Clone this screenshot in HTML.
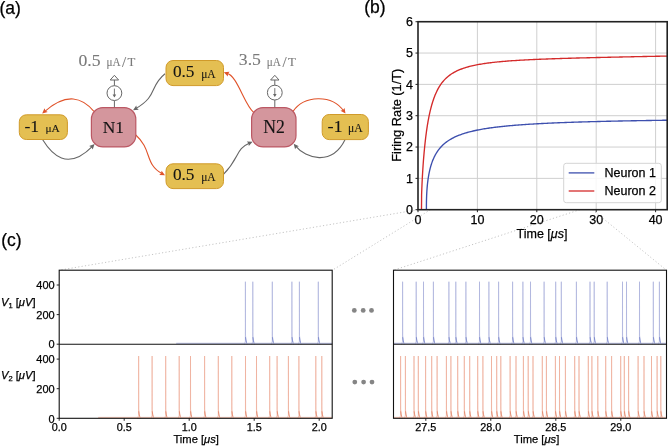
<!DOCTYPE html><html><head><meta charset="utf-8"><style>html,body{margin:0;padding:0;background:#fff;width:668px;height:446px;overflow:hidden;position:relative}</style></head><body><svg width="668" height="446" viewBox="0 0 668 446" style="position:absolute;left:0;top:0;will-change:transform">
<defs><clipPath id="cb"><rect x="418.00" y="21.72" width="249.20" height="187.98"/></clipPath></defs>
<text x="-0.6" y="13.8" font-family='"Liberation Sans", sans-serif' font-size="17.5" fill="#000" stroke="#000" stroke-width="0.25">(a)</text>
<text x="364.2" y="13" font-family='"Liberation Sans", sans-serif' font-size="17.5" fill="#000" stroke="#000" stroke-width="0.25">(b)</text>
<text x="1.2" y="245.6" font-family='"Liberation Sans", sans-serif' font-size="17.5" fill="#000" stroke="#000" stroke-width="0.25">(c)</text>
<line x1="418.00" y1="209.70" x2="59.20" y2="270.20" stroke="#c4c4c4" stroke-width="1" stroke-dasharray="1.2 2.2"/>
<line x1="430.47" y1="209.70" x2="332.40" y2="270.20" stroke="#c4c4c4" stroke-width="1" stroke-dasharray="1.2 2.2"/>
<line x1="579.87" y1="209.70" x2="393.50" y2="270.20" stroke="#c4c4c4" stroke-width="1" stroke-dasharray="1.2 2.2"/>
<line x1="592.34" y1="209.70" x2="666.50" y2="270.20" stroke="#c4c4c4" stroke-width="1" stroke-dasharray="1.2 2.2"/>
<line x1="477.40" y1="21.72" x2="477.40" y2="209.70" stroke="#cfcfcf" stroke-width="1"/>
<line x1="536.80" y1="21.72" x2="536.80" y2="209.70" stroke="#cfcfcf" stroke-width="1"/>
<line x1="596.20" y1="21.72" x2="596.20" y2="209.70" stroke="#cfcfcf" stroke-width="1"/>
<line x1="655.60" y1="21.72" x2="655.60" y2="209.70" stroke="#cfcfcf" stroke-width="1"/>
<line x1="418.00" y1="178.37" x2="667.20" y2="178.37" stroke="#cfcfcf" stroke-width="1"/>
<line x1="418.00" y1="147.04" x2="667.20" y2="147.04" stroke="#cfcfcf" stroke-width="1"/>
<line x1="418.00" y1="115.71" x2="667.20" y2="115.71" stroke="#cfcfcf" stroke-width="1"/>
<line x1="418.00" y1="84.38" x2="667.20" y2="84.38" stroke="#cfcfcf" stroke-width="1"/>
<line x1="418.00" y1="53.05" x2="667.20" y2="53.05" stroke="#cfcfcf" stroke-width="1"/>
<polyline points="426.40,209.70 426.40,207.96 426.41,206.62 426.41,205.39 426.42,204.24 426.44,203.14 426.45,202.07 426.47,201.04 426.50,200.04 426.52,199.06 426.55,198.09 426.58,197.15 426.62,196.23 426.65,195.31 426.70,194.42 426.74,193.53 426.79,192.66 426.84,191.81 426.89,190.96 426.94,190.12 427.00,189.30 427.07,188.48 427.13,187.67 427.20,186.88 427.27,186.09 427.34,185.31 427.42,184.54 427.50,183.78 427.58,183.03 427.67,182.28 427.76,181.55 427.85,180.82 427.95,180.10 428.04,179.39 428.14,178.68 428.25,177.99 428.36,177.30 428.47,176.62 428.58,175.94 428.70,175.28 428.81,174.62 428.94,173.97 429.06,173.32 429.19,172.68 429.32,172.05 429.46,171.43 429.59,170.81 429.73,170.20 429.88,169.60 430.02,169.00 430.17,168.41 430.33,167.83 430.48,167.25 430.64,166.68 430.80,166.12 430.97,165.57 431.13,165.02 431.30,164.47 431.48,163.93 431.65,163.40 431.83,162.88 432.02,162.36 432.20,161.85 432.39,161.34 432.58,160.84 432.78,160.34 432.97,159.86 433.18,159.37 433.38,158.90 433.59,158.43 433.80,157.96 434.01,157.50 434.22,157.05 434.44,156.60 434.67,156.16 434.89,155.72 435.12,155.29 435.35,154.86 435.58,154.44 435.82,154.02 436.98,152.12 438.15,150.42 439.31,148.89 440.48,147.51 441.64,146.24 442.80,145.09 443.97,144.02 445.13,143.04 446.30,142.13 447.46,141.28 448.63,140.49 449.79,139.76 450.95,139.06 452.12,138.41 453.28,137.80 454.45,137.22 455.61,136.67 456.77,136.16 457.94,135.67 459.10,135.20 460.27,134.76 461.43,134.34 462.59,133.94 463.76,133.55 464.92,133.19 466.09,132.84 467.25,132.50 468.42,132.18 469.58,131.87 470.74,131.57 471.91,131.29 473.07,131.01 474.24,130.75 475.40,130.50 476.56,130.25 477.73,130.02 478.89,129.79 480.06,129.57 481.22,129.35 482.38,129.15 483.55,128.95 484.71,128.76 485.88,128.57 487.04,128.39 488.21,128.21 489.37,128.04 490.53,127.88 491.70,127.72 492.86,127.56 494.03,127.41 495.19,127.27 496.35,127.12 497.52,126.98 498.68,126.85 499.85,126.72 501.01,126.59 502.17,126.46 503.34,126.34 504.50,126.22 505.67,126.10 506.83,125.99 508.00,125.88 509.16,125.77 510.32,125.67 511.49,125.57 512.65,125.46 513.82,125.37 514.98,125.27 516.14,125.18 517.31,125.08 518.47,125.00 519.64,124.91 520.80,124.82 521.96,124.74 523.13,124.65 524.29,124.57 525.46,124.49 526.62,124.42 527.79,124.34 528.95,124.27 530.11,124.19 531.28,124.12 532.44,124.05 533.61,123.98 534.77,123.92 535.93,123.85 537.10,123.78 538.26,123.72 539.43,123.66 540.59,123.60 541.75,123.53 542.92,123.48 544.08,123.42 545.25,123.36 546.41,123.30 547.58,123.25 548.74,123.19 549.90,123.14 551.07,123.09 552.23,123.03 553.40,122.98 554.56,122.93 555.72,122.88 556.89,122.84 558.05,122.79 559.22,122.74 560.38,122.69 561.55,122.65 562.71,122.60 563.87,122.56 565.04,122.52 566.20,122.47 567.37,122.43 568.53,122.39 569.69,122.35 570.86,122.31 572.02,122.27 573.19,122.23 574.35,122.19 575.51,122.15 576.68,122.11 577.84,122.08 579.01,122.04 580.17,122.00 581.34,121.97 582.50,121.93 583.66,121.90 584.83,121.86 585.99,121.83 587.16,121.80 588.32,121.76 589.48,121.73 590.65,121.70 591.81,121.67 592.98,121.64 594.14,121.61 595.30,121.58 596.47,121.55 597.63,121.52 598.80,121.49 599.96,121.46 601.13,121.43 602.29,121.40 603.45,121.37 604.62,121.35 605.78,121.32 606.95,121.29 608.11,121.26 609.27,121.24 610.44,121.21 611.60,121.19 612.77,121.16 613.93,121.14 615.09,121.11 616.26,121.09 617.42,121.06 618.59,121.04 619.75,121.01 620.92,120.99 622.08,120.97 623.24,120.95 624.41,120.92 625.57,120.90 626.74,120.88 627.90,120.86 629.06,120.83 630.23,120.81 631.39,120.79 632.56,120.77 633.72,120.75 634.88,120.73 636.05,120.71 637.21,120.69 638.38,120.67 639.54,120.65 640.71,120.63 641.87,120.61 643.03,120.59 644.20,120.57 645.36,120.55 646.53,120.53 647.69,120.52 648.85,120.50 650.02,120.48 651.18,120.46 652.35,120.44 653.51,120.43 654.67,120.41 655.84,120.39 657.00,120.37 658.17,120.36 659.33,120.34 660.50,120.32 661.66,120.31 662.82,120.29 663.99,120.28 665.15,120.26 666.32,120.24 667.48,120.23" fill="none" stroke="#3d4fae" stroke-width="1.35" stroke-linejoin="round" clip-path="url(#cb)"/>
<polyline points="421.47,209.70 421.48,209.46 421.48,208.73 421.50,207.52 421.51,205.82 421.53,203.64 421.56,200.97 421.59,194.83 421.62,193.98 421.66,192.98 421.70,191.84 421.75,190.58 421.81,189.23 421.86,187.81 421.93,186.32 421.99,184.78 422.06,183.20 422.14,181.59 422.22,179.94 422.30,178.28 422.39,176.59 422.49,174.89 422.59,173.18 422.69,171.45 422.80,169.73 422.91,167.99 423.03,166.26 423.15,164.52 423.28,162.78 423.41,161.05 423.54,159.31 423.68,157.58 423.83,155.85 423.98,154.13 424.13,152.41 424.29,150.69 424.45,148.98 424.62,147.28 424.79,145.58 424.97,143.89 425.15,142.22 425.34,140.55 425.53,138.90 425.72,137.27 425.92,135.66 426.13,134.07 426.34,132.50 426.55,130.95 426.77,129.42 426.99,127.91 427.22,126.43 427.45,124.97 427.69,123.53 427.93,122.12 428.18,120.73 428.43,119.36 428.68,118.02 428.94,116.71 429.21,115.41 429.48,114.14 429.75,112.89 430.03,111.67 430.31,110.47 430.60,109.29 430.89,108.13 431.19,107.00 431.49,105.89 431.79,104.80 432.10,103.74 432.42,102.70 432.74,101.67 433.06,100.67 433.39,99.70 433.72,98.74 434.06,97.80 434.40,96.89 434.75,95.99 435.10,95.11 435.46,94.26 435.82,93.42 436.98,90.92 438.15,88.67 439.31,86.66 440.48,84.85 441.64,83.21 442.80,81.72 443.97,80.37 445.13,79.13 446.30,77.99 447.46,76.95 448.63,75.99 449.79,75.11 450.95,74.29 452.12,73.53 453.28,72.82 454.45,72.16 455.61,71.55 456.77,70.97 457.94,70.43 459.10,69.92 460.27,69.45 461.43,69.00 462.59,68.57 463.76,68.17 464.92,67.79 466.09,67.43 467.25,67.09 468.42,66.76 469.58,66.46 470.74,66.16 471.91,65.88 473.07,65.61 474.24,65.36 475.40,65.12 476.56,64.88 477.73,64.66 478.89,64.45 480.06,64.24 481.22,64.05 482.38,63.86 483.55,63.68 484.71,63.50 485.88,63.33 487.04,63.17 488.21,63.02 489.37,62.87 490.53,62.72 491.70,62.58 492.86,62.45 494.03,62.32 495.19,62.19 496.35,62.07 497.52,61.95 498.68,61.84 499.85,61.73 501.01,61.62 502.17,61.51 503.34,61.41 504.50,61.32 505.67,61.22 506.83,61.13 508.00,61.04 509.16,60.95 510.32,60.87 511.49,60.78 512.65,60.70 513.82,60.62 514.98,60.55 516.14,60.47 517.31,60.40 518.47,60.33 519.64,60.26 520.80,60.19 521.96,60.12 523.13,60.06 524.29,60.00 525.46,59.93 526.62,59.87 527.79,59.81 528.95,59.76 530.11,59.70 531.28,59.64 532.44,59.59 533.61,59.53 534.77,59.48 535.93,59.43 537.10,59.38 538.26,59.33 539.43,59.28 540.59,59.23 541.75,59.19 542.92,59.14 544.08,59.09 545.25,59.05 546.41,59.00 547.58,58.96 548.74,58.92 549.90,58.88 551.07,58.83 552.23,58.79 553.40,58.75 554.56,58.71 555.72,58.67 556.89,58.64 558.05,58.60 559.22,58.56 560.38,58.52 561.55,58.49 562.71,58.45 563.87,58.41 565.04,58.38 566.20,58.34 567.37,58.31 568.53,58.27 569.69,58.24 570.86,58.21 572.02,58.17 573.19,58.14 574.35,58.11 575.51,58.08 576.68,58.04 577.84,58.01 579.01,57.98 580.17,57.95 581.34,57.92 582.50,57.89 583.66,57.86 584.83,57.83 585.99,57.80 587.16,57.77 588.32,57.74 589.48,57.71 590.65,57.68 591.81,57.66 592.98,57.63 594.14,57.60 595.30,57.57 596.47,57.54 597.63,57.52 598.80,57.49 599.96,57.46 601.13,57.43 602.29,57.41 603.45,57.38 604.62,57.35 605.78,57.33 606.95,57.30 608.11,57.27 609.27,57.25 610.44,57.22 611.60,57.20 612.77,57.17 613.93,57.15 615.09,57.12 616.26,57.10 617.42,57.07 618.59,57.05 619.75,57.02 620.92,57.00 622.08,56.97 623.24,56.95 624.41,56.92 625.57,56.90 626.74,56.87 627.90,56.85 629.06,56.82 630.23,56.80 631.39,56.78 632.56,56.75 633.72,56.73 634.88,56.70 636.05,56.68 637.21,56.66 638.38,56.63 639.54,56.61 640.71,56.59 641.87,56.56 643.03,56.54 644.20,56.51 645.36,56.49 646.53,56.47 647.69,56.44 648.85,56.42 650.02,56.40 651.18,56.38 652.35,56.35 653.51,56.33 654.67,56.31 655.84,56.28 657.00,56.26 658.17,56.24 659.33,56.22 660.50,56.19 661.66,56.17 662.82,56.15 663.99,56.12 665.15,56.10 666.32,56.08 667.48,56.06" fill="none" stroke="#d42a2a" stroke-width="1.35" stroke-linejoin="round" clip-path="url(#cb)"/>
<rect x="418.00" y="21.72" width="249.20" height="187.98" fill="none" stroke="#222" stroke-width="1.6"/>
<line x1="415.50" y1="209.70" x2="418.00" y2="209.70" stroke="#222" stroke-width="1"/>
<text x="413.00" y="214.00" text-anchor="end" font-family='"Liberation Sans", sans-serif' font-size="12.5" fill="#000" stroke="#000" stroke-width="0.25">0</text>
<line x1="415.50" y1="178.37" x2="418.00" y2="178.37" stroke="#222" stroke-width="1"/>
<text x="413.00" y="182.67" text-anchor="end" font-family='"Liberation Sans", sans-serif' font-size="12.5" fill="#000" stroke="#000" stroke-width="0.25">1</text>
<line x1="415.50" y1="147.04" x2="418.00" y2="147.04" stroke="#222" stroke-width="1"/>
<text x="413.00" y="151.34" text-anchor="end" font-family='"Liberation Sans", sans-serif' font-size="12.5" fill="#000" stroke="#000" stroke-width="0.25">2</text>
<line x1="415.50" y1="115.71" x2="418.00" y2="115.71" stroke="#222" stroke-width="1"/>
<text x="413.00" y="120.01" text-anchor="end" font-family='"Liberation Sans", sans-serif' font-size="12.5" fill="#000" stroke="#000" stroke-width="0.25">3</text>
<line x1="415.50" y1="84.38" x2="418.00" y2="84.38" stroke="#222" stroke-width="1"/>
<text x="413.00" y="88.68" text-anchor="end" font-family='"Liberation Sans", sans-serif' font-size="12.5" fill="#000" stroke="#000" stroke-width="0.25">4</text>
<line x1="415.50" y1="53.05" x2="418.00" y2="53.05" stroke="#222" stroke-width="1"/>
<text x="413.00" y="57.35" text-anchor="end" font-family='"Liberation Sans", sans-serif' font-size="12.5" fill="#000" stroke="#000" stroke-width="0.25">5</text>
<line x1="415.50" y1="21.72" x2="418.00" y2="21.72" stroke="#222" stroke-width="1"/>
<text x="413.00" y="26.02" text-anchor="end" font-family='"Liberation Sans", sans-serif' font-size="12.5" fill="#000" stroke="#000" stroke-width="0.25">6</text>
<line x1="418.00" y1="209.70" x2="418.00" y2="212.20" stroke="#222" stroke-width="1"/>
<text x="418.00" y="223.70" text-anchor="middle" font-family='"Liberation Sans", sans-serif' font-size="12.5" fill="#000" stroke="#000" stroke-width="0.25">0</text>
<line x1="477.40" y1="209.70" x2="477.40" y2="212.20" stroke="#222" stroke-width="1"/>
<text x="477.40" y="223.70" text-anchor="middle" font-family='"Liberation Sans", sans-serif' font-size="12.5" fill="#000" stroke="#000" stroke-width="0.25">10</text>
<line x1="536.80" y1="209.70" x2="536.80" y2="212.20" stroke="#222" stroke-width="1"/>
<text x="536.80" y="223.70" text-anchor="middle" font-family='"Liberation Sans", sans-serif' font-size="12.5" fill="#000" stroke="#000" stroke-width="0.25">20</text>
<line x1="596.20" y1="209.70" x2="596.20" y2="212.20" stroke="#222" stroke-width="1"/>
<text x="596.20" y="223.70" text-anchor="middle" font-family='"Liberation Sans", sans-serif' font-size="12.5" fill="#000" stroke="#000" stroke-width="0.25">30</text>
<line x1="655.60" y1="209.70" x2="655.60" y2="212.20" stroke="#222" stroke-width="1"/>
<text x="655.60" y="223.70" text-anchor="middle" font-family='"Liberation Sans", sans-serif' font-size="12.5" fill="#000" stroke="#000" stroke-width="0.25">40</text>
<text x="542" y="238" text-anchor="middle" font-family='"Liberation Sans", sans-serif' font-size="12.5" fill="#000" stroke="#000" stroke-width="0.25">Time [<tspan font-style="italic">μs</tspan>]</text>
<text transform="translate(400.6,115.2) rotate(-90)" text-anchor="middle" font-family='"Liberation Sans", sans-serif' font-size="12.8" fill="#000" stroke="#000" stroke-width="0.25">Firing Rate (1/T)</text>
<rect x="563.7" y="163.3" width="97.6" height="39.4" rx="2.5" fill="#fff" fill-opacity="0.85" stroke="#d4d4d4" stroke-width="1"/>
<line x1="568.7" y1="172.9" x2="594.3" y2="172.9" stroke="#3d4fae" stroke-width="1.3"/>
<line x1="568.7" y1="191" x2="594.3" y2="191" stroke="#d42a2a" stroke-width="1.3"/>
<text x="604.5" y="177.2" font-family='"Liberation Sans", sans-serif' font-size="12.5" fill="#000" stroke="#000" stroke-width="0.25">Neuron 1</text>
<text x="604.5" y="195.3" font-family='"Liberation Sans", sans-serif' font-size="12.5" fill="#000" stroke="#000" stroke-width="0.25">Neuron 2</text>
<line x1="176.20" y1="343.30" x2="332.20" y2="343.30" stroke="#8e98d4" stroke-width="0.7"/>
<line x1="98.20" y1="417.40" x2="332.20" y2="417.40" stroke="#eaa08a" stroke-width="0.7"/>
<line x1="393.50" y1="343.30" x2="666.50" y2="343.30" stroke="#8e98d4" stroke-width="0.7"/>
<line x1="393.50" y1="417.40" x2="666.50" y2="417.40" stroke="#eaa08a" stroke-width="0.7"/>
<path d="M244.40,344.50 L245.35,341.20 L245.40,281.70 L245.50,335.20 L245.90,339.20 L246.40,342.20 L247.10,344.50" fill="none" stroke="#a2a9d8" stroke-width="0.6" stroke-linejoin="miter" stroke-miterlimit="1.5"/>
<path d="M245.50,337.20 L245.90,340.20 L246.50,342.70" fill="none" stroke="#6474c4" stroke-width="0.7"/>
<path d="M251.80,344.50 L252.75,341.20 L252.80,281.70 L252.90,335.20 L253.30,339.20 L253.80,342.20 L254.50,344.50" fill="none" stroke="#a2a9d8" stroke-width="0.6" stroke-linejoin="miter" stroke-miterlimit="1.5"/>
<path d="M252.90,337.20 L253.30,340.20 L253.90,342.70" fill="none" stroke="#6474c4" stroke-width="0.7"/>
<path d="M271.30,344.50 L272.25,341.20 L272.30,281.70 L272.40,335.20 L272.80,339.20 L273.30,342.20 L274.00,344.50" fill="none" stroke="#a2a9d8" stroke-width="0.6" stroke-linejoin="miter" stroke-miterlimit="1.5"/>
<path d="M272.40,337.20 L272.80,340.20 L273.40,342.70" fill="none" stroke="#6474c4" stroke-width="0.7"/>
<path d="M290.90,344.50 L291.85,341.20 L291.90,281.70 L292.00,335.20 L292.40,339.20 L292.90,342.20 L293.60,344.50" fill="none" stroke="#a2a9d8" stroke-width="0.6" stroke-linejoin="miter" stroke-miterlimit="1.5"/>
<path d="M292.00,337.20 L292.40,340.20 L293.00,342.70" fill="none" stroke="#6474c4" stroke-width="0.7"/>
<path d="M298.40,344.50 L299.35,341.20 L299.40,281.70 L299.50,335.20 L299.90,339.20 L300.40,342.20 L301.10,344.50" fill="none" stroke="#a2a9d8" stroke-width="0.6" stroke-linejoin="miter" stroke-miterlimit="1.5"/>
<path d="M299.50,337.20 L299.90,340.20 L300.50,342.70" fill="none" stroke="#6474c4" stroke-width="0.7"/>
<path d="M317.30,344.50 L318.25,341.20 L318.30,281.70 L318.40,335.20 L318.80,339.20 L319.30,342.20 L320.00,344.50" fill="none" stroke="#a2a9d8" stroke-width="0.6" stroke-linejoin="miter" stroke-miterlimit="1.5"/>
<path d="M318.40,337.20 L318.80,340.20 L319.40,342.70" fill="none" stroke="#6474c4" stroke-width="0.7"/>
<path d="M401.60,344.50 L402.55,341.20 L402.60,281.70 L402.70,335.20 L403.10,339.20 L403.60,342.20 L404.30,344.50" fill="none" stroke="#a2a9d8" stroke-width="0.6" stroke-linejoin="miter" stroke-miterlimit="1.5"/>
<path d="M402.70,337.20 L403.10,340.20 L403.70,342.70" fill="none" stroke="#6474c4" stroke-width="0.7"/>
<path d="M415.20,344.50 L416.15,341.20 L416.20,281.70 L416.30,335.20 L416.70,339.20 L417.20,342.20 L417.90,344.50" fill="none" stroke="#a2a9d8" stroke-width="0.6" stroke-linejoin="miter" stroke-miterlimit="1.5"/>
<path d="M416.30,337.20 L416.70,340.20 L417.30,342.70" fill="none" stroke="#6474c4" stroke-width="0.7"/>
<path d="M422.50,344.50 L423.45,341.20 L423.50,281.70 L423.60,335.20 L424.00,339.20 L424.50,342.20 L425.20,344.50" fill="none" stroke="#a2a9d8" stroke-width="0.6" stroke-linejoin="miter" stroke-miterlimit="1.5"/>
<path d="M423.60,337.20 L424.00,340.20 L424.60,342.70" fill="none" stroke="#6474c4" stroke-width="0.7"/>
<path d="M432.40,344.50 L433.35,341.20 L433.40,281.70 L433.50,335.20 L433.90,339.20 L434.40,342.20 L435.10,344.50" fill="none" stroke="#a2a9d8" stroke-width="0.6" stroke-linejoin="miter" stroke-miterlimit="1.5"/>
<path d="M433.50,337.20 L433.90,340.20 L434.50,342.70" fill="none" stroke="#6474c4" stroke-width="0.7"/>
<path d="M447.90,344.50 L448.85,341.20 L448.90,281.70 L449.00,335.20 L449.40,339.20 L449.90,342.20 L450.60,344.50" fill="none" stroke="#a2a9d8" stroke-width="0.6" stroke-linejoin="miter" stroke-miterlimit="1.5"/>
<path d="M449.00,337.20 L449.40,340.20 L450.00,342.70" fill="none" stroke="#6474c4" stroke-width="0.7"/>
<path d="M454.80,344.50 L455.75,341.20 L455.80,281.70 L455.90,335.20 L456.30,339.20 L456.80,342.20 L457.50,344.50" fill="none" stroke="#a2a9d8" stroke-width="0.6" stroke-linejoin="miter" stroke-miterlimit="1.5"/>
<path d="M455.90,337.20 L456.30,340.20 L456.90,342.70" fill="none" stroke="#6474c4" stroke-width="0.7"/>
<path d="M464.90,344.50 L465.85,341.20 L465.90,281.70 L466.00,335.20 L466.40,339.20 L466.90,342.20 L467.60,344.50" fill="none" stroke="#a2a9d8" stroke-width="0.6" stroke-linejoin="miter" stroke-miterlimit="1.5"/>
<path d="M466.00,337.20 L466.40,340.20 L467.00,342.70" fill="none" stroke="#6474c4" stroke-width="0.7"/>
<path d="M478.50,344.50 L479.45,341.20 L479.50,281.70 L479.60,335.20 L480.00,339.20 L480.50,342.20 L481.20,344.50" fill="none" stroke="#a2a9d8" stroke-width="0.6" stroke-linejoin="miter" stroke-miterlimit="1.5"/>
<path d="M479.60,337.20 L480.00,340.20 L480.60,342.70" fill="none" stroke="#6474c4" stroke-width="0.7"/>
<path d="M487.90,344.50 L488.85,341.20 L488.90,281.70 L489.00,335.20 L489.40,339.20 L489.90,342.20 L490.60,344.50" fill="none" stroke="#a2a9d8" stroke-width="0.6" stroke-linejoin="miter" stroke-miterlimit="1.5"/>
<path d="M489.00,337.20 L489.40,340.20 L490.00,342.70" fill="none" stroke="#6474c4" stroke-width="0.7"/>
<path d="M497.60,344.50 L498.55,341.20 L498.60,281.70 L498.70,335.20 L499.10,339.20 L499.60,342.20 L500.30,344.50" fill="none" stroke="#a2a9d8" stroke-width="0.6" stroke-linejoin="miter" stroke-miterlimit="1.5"/>
<path d="M498.70,337.20 L499.10,340.20 L499.70,342.70" fill="none" stroke="#6474c4" stroke-width="0.7"/>
<path d="M511.60,344.50 L512.55,341.20 L512.60,281.70 L512.70,335.20 L513.10,339.20 L513.60,342.20 L514.30,344.50" fill="none" stroke="#a2a9d8" stroke-width="0.6" stroke-linejoin="miter" stroke-miterlimit="1.5"/>
<path d="M512.70,337.20 L513.10,340.20 L513.70,342.70" fill="none" stroke="#6474c4" stroke-width="0.7"/>
<path d="M521.90,344.50 L522.85,341.20 L522.90,281.70 L523.00,335.20 L523.40,339.20 L523.90,342.20 L524.60,344.50" fill="none" stroke="#a2a9d8" stroke-width="0.6" stroke-linejoin="miter" stroke-miterlimit="1.5"/>
<path d="M523.00,337.20 L523.40,340.20 L524.00,342.70" fill="none" stroke="#6474c4" stroke-width="0.7"/>
<path d="M529.50,344.50 L530.45,341.20 L530.50,281.70 L530.60,335.20 L531.00,339.20 L531.50,342.20 L532.20,344.50" fill="none" stroke="#a2a9d8" stroke-width="0.6" stroke-linejoin="miter" stroke-miterlimit="1.5"/>
<path d="M530.60,337.20 L531.00,340.20 L531.60,342.70" fill="none" stroke="#6474c4" stroke-width="0.7"/>
<path d="M543.10,344.50 L544.05,341.20 L544.10,281.70 L544.20,335.20 L544.60,339.20 L545.10,342.20 L545.80,344.50" fill="none" stroke="#a2a9d8" stroke-width="0.6" stroke-linejoin="miter" stroke-miterlimit="1.5"/>
<path d="M544.20,337.20 L544.60,340.20 L545.20,342.70" fill="none" stroke="#6474c4" stroke-width="0.7"/>
<path d="M554.70,344.50 L555.65,341.20 L555.70,281.70 L555.80,335.20 L556.20,339.20 L556.70,342.20 L557.40,344.50" fill="none" stroke="#a2a9d8" stroke-width="0.6" stroke-linejoin="miter" stroke-miterlimit="1.5"/>
<path d="M555.80,337.20 L556.20,340.20 L556.80,342.70" fill="none" stroke="#6474c4" stroke-width="0.7"/>
<path d="M560.30,344.50 L561.25,341.20 L561.30,281.70 L561.40,335.20 L561.80,339.20 L562.30,342.20 L563.00,344.50" fill="none" stroke="#a2a9d8" stroke-width="0.6" stroke-linejoin="miter" stroke-miterlimit="1.5"/>
<path d="M561.40,337.20 L561.80,340.20 L562.40,342.70" fill="none" stroke="#6474c4" stroke-width="0.7"/>
<path d="M575.40,344.50 L576.35,341.20 L576.40,281.70 L576.50,335.20 L576.90,339.20 L577.40,342.20 L578.10,344.50" fill="none" stroke="#a2a9d8" stroke-width="0.6" stroke-linejoin="miter" stroke-miterlimit="1.5"/>
<path d="M576.50,337.20 L576.90,340.20 L577.50,342.70" fill="none" stroke="#6474c4" stroke-width="0.7"/>
<path d="M589.00,344.50 L589.95,341.20 L590.00,281.70 L590.10,335.20 L590.50,339.20 L591.00,342.20 L591.70,344.50" fill="none" stroke="#a2a9d8" stroke-width="0.6" stroke-linejoin="miter" stroke-miterlimit="1.5"/>
<path d="M590.10,337.20 L590.50,340.20 L591.10,342.70" fill="none" stroke="#6474c4" stroke-width="0.7"/>
<path d="M593.20,344.50 L594.15,341.20 L594.20,281.70 L594.30,335.20 L594.70,339.20 L595.20,342.20 L595.90,344.50" fill="none" stroke="#a2a9d8" stroke-width="0.6" stroke-linejoin="miter" stroke-miterlimit="1.5"/>
<path d="M594.30,337.20 L594.70,340.20 L595.30,342.70" fill="none" stroke="#6474c4" stroke-width="0.7"/>
<path d="M606.20,344.50 L607.15,341.20 L607.20,281.70 L607.30,335.20 L607.70,339.20 L608.20,342.20 L608.90,344.50" fill="none" stroke="#a2a9d8" stroke-width="0.6" stroke-linejoin="miter" stroke-miterlimit="1.5"/>
<path d="M607.30,337.20 L607.70,340.20 L608.30,342.70" fill="none" stroke="#6474c4" stroke-width="0.7"/>
<path d="M621.50,344.50 L622.45,341.20 L622.50,281.70 L622.60,335.20 L623.00,339.20 L623.50,342.20 L624.20,344.50" fill="none" stroke="#a2a9d8" stroke-width="0.6" stroke-linejoin="miter" stroke-miterlimit="1.5"/>
<path d="M622.60,337.20 L623.00,340.20 L623.60,342.70" fill="none" stroke="#6474c4" stroke-width="0.7"/>
<path d="M625.50,344.50 L626.45,341.20 L626.50,281.70 L626.60,335.20 L627.00,339.20 L627.50,342.20 L628.20,344.50" fill="none" stroke="#a2a9d8" stroke-width="0.6" stroke-linejoin="miter" stroke-miterlimit="1.5"/>
<path d="M626.60,337.20 L627.00,340.20 L627.60,342.70" fill="none" stroke="#6474c4" stroke-width="0.7"/>
<path d="M638.50,344.50 L639.45,341.20 L639.50,281.70 L639.60,335.20 L640.00,339.20 L640.50,342.20 L641.20,344.50" fill="none" stroke="#a2a9d8" stroke-width="0.6" stroke-linejoin="miter" stroke-miterlimit="1.5"/>
<path d="M639.60,337.20 L640.00,340.20 L640.60,342.70" fill="none" stroke="#6474c4" stroke-width="0.7"/>
<path d="M652.30,344.50 L653.25,341.20 L653.30,281.70 L653.40,335.20 L653.80,339.20 L654.30,342.20 L655.00,344.50" fill="none" stroke="#a2a9d8" stroke-width="0.6" stroke-linejoin="miter" stroke-miterlimit="1.5"/>
<path d="M653.40,337.20 L653.80,340.20 L654.40,342.70" fill="none" stroke="#6474c4" stroke-width="0.7"/>
<path d="M658.40,344.50 L659.35,341.20 L659.40,281.70 L659.50,335.20 L659.90,339.20 L660.40,342.20 L661.10,344.50" fill="none" stroke="#a2a9d8" stroke-width="0.6" stroke-linejoin="miter" stroke-miterlimit="1.5"/>
<path d="M659.50,337.20 L659.90,340.20 L660.50,342.70" fill="none" stroke="#6474c4" stroke-width="0.7"/>
<path d="M137.65,418.60 L138.60,415.30 L138.65,356.00 L138.75,409.30 L139.15,413.30 L139.65,416.30 L140.35,418.60" fill="none" stroke="#eca58f" stroke-width="0.6" stroke-linejoin="miter" stroke-miterlimit="1.5"/>
<path d="M138.75,411.30 L139.15,414.30 L139.75,416.80" fill="none" stroke="#e07a5a" stroke-width="0.7"/>
<path d="M151.10,418.60 L152.05,415.30 L152.10,356.00 L152.20,409.30 L152.60,413.30 L153.10,416.30 L153.80,418.60" fill="none" stroke="#eca58f" stroke-width="0.6" stroke-linejoin="miter" stroke-miterlimit="1.5"/>
<path d="M152.20,411.30 L152.60,414.30 L153.20,416.80" fill="none" stroke="#e07a5a" stroke-width="0.7"/>
<path d="M164.70,418.60 L165.65,415.30 L165.70,356.00 L165.80,409.30 L166.20,413.30 L166.70,416.30 L167.40,418.60" fill="none" stroke="#eca58f" stroke-width="0.6" stroke-linejoin="miter" stroke-miterlimit="1.5"/>
<path d="M165.80,411.30 L166.20,414.30 L166.80,416.80" fill="none" stroke="#e07a5a" stroke-width="0.7"/>
<path d="M178.20,418.60 L179.15,415.30 L179.20,356.00 L179.30,409.30 L179.70,413.30 L180.20,416.30 L180.90,418.60" fill="none" stroke="#eca58f" stroke-width="0.6" stroke-linejoin="miter" stroke-miterlimit="1.5"/>
<path d="M179.30,411.30 L179.70,414.30 L180.30,416.80" fill="none" stroke="#e07a5a" stroke-width="0.7"/>
<path d="M189.50,418.60 L190.45,415.30 L190.50,356.00 L190.60,409.30 L191.00,413.30 L191.50,416.30 L192.20,418.60" fill="none" stroke="#eca58f" stroke-width="0.6" stroke-linejoin="miter" stroke-miterlimit="1.5"/>
<path d="M190.60,411.30 L191.00,414.30 L191.60,416.80" fill="none" stroke="#e07a5a" stroke-width="0.7"/>
<path d="M203.60,418.60 L204.55,415.30 L204.60,356.00 L204.70,409.30 L205.10,413.30 L205.60,416.30 L206.30,418.60" fill="none" stroke="#eca58f" stroke-width="0.6" stroke-linejoin="miter" stroke-miterlimit="1.5"/>
<path d="M204.70,411.30 L205.10,414.30 L205.70,416.80" fill="none" stroke="#e07a5a" stroke-width="0.7"/>
<path d="M217.30,418.60 L218.25,415.30 L218.30,356.00 L218.40,409.30 L218.80,413.30 L219.30,416.30 L220.00,418.60" fill="none" stroke="#eca58f" stroke-width="0.6" stroke-linejoin="miter" stroke-miterlimit="1.5"/>
<path d="M218.40,411.30 L218.80,414.30 L219.40,416.80" fill="none" stroke="#e07a5a" stroke-width="0.7"/>
<path d="M230.80,418.60 L231.75,415.30 L231.80,356.00 L231.90,409.30 L232.30,413.30 L232.80,416.30 L233.50,418.60" fill="none" stroke="#eca58f" stroke-width="0.6" stroke-linejoin="miter" stroke-miterlimit="1.5"/>
<path d="M231.90,411.30 L232.30,414.30 L232.90,416.80" fill="none" stroke="#e07a5a" stroke-width="0.7"/>
<path d="M244.50,418.60 L245.45,415.30 L245.50,356.00 L245.60,409.30 L246.00,413.30 L246.50,416.30 L247.20,418.60" fill="none" stroke="#eca58f" stroke-width="0.6" stroke-linejoin="miter" stroke-miterlimit="1.5"/>
<path d="M245.60,411.30 L246.00,414.30 L246.60,416.80" fill="none" stroke="#e07a5a" stroke-width="0.7"/>
<path d="M255.50,418.60 L256.45,415.30 L256.50,356.00 L256.60,409.30 L257.00,413.30 L257.50,416.30 L258.20,418.60" fill="none" stroke="#eca58f" stroke-width="0.6" stroke-linejoin="miter" stroke-miterlimit="1.5"/>
<path d="M256.60,411.30 L257.00,414.30 L257.60,416.80" fill="none" stroke="#e07a5a" stroke-width="0.7"/>
<path d="M268.70,418.60 L269.65,415.30 L269.70,356.00 L269.80,409.30 L270.20,413.30 L270.70,416.30 L271.40,418.60" fill="none" stroke="#eca58f" stroke-width="0.6" stroke-linejoin="miter" stroke-miterlimit="1.5"/>
<path d="M269.80,411.30 L270.20,414.30 L270.80,416.80" fill="none" stroke="#e07a5a" stroke-width="0.7"/>
<path d="M276.10,418.60 L277.05,415.30 L277.10,356.00 L277.20,409.30 L277.60,413.30 L278.10,416.30 L278.80,418.60" fill="none" stroke="#eca58f" stroke-width="0.6" stroke-linejoin="miter" stroke-miterlimit="1.5"/>
<path d="M277.20,411.30 L277.60,414.30 L278.20,416.80" fill="none" stroke="#e07a5a" stroke-width="0.7"/>
<path d="M287.40,418.60 L288.35,415.30 L288.40,356.00 L288.50,409.30 L288.90,413.30 L289.40,416.30 L290.10,418.60" fill="none" stroke="#eca58f" stroke-width="0.6" stroke-linejoin="miter" stroke-miterlimit="1.5"/>
<path d="M288.50,411.30 L288.90,414.30 L289.50,416.80" fill="none" stroke="#e07a5a" stroke-width="0.7"/>
<path d="M297.90,418.60 L298.85,415.30 L298.90,356.00 L299.00,409.30 L299.40,413.30 L299.90,416.30 L300.60,418.60" fill="none" stroke="#eca58f" stroke-width="0.6" stroke-linejoin="miter" stroke-miterlimit="1.5"/>
<path d="M299.00,411.30 L299.40,414.30 L300.00,416.80" fill="none" stroke="#e07a5a" stroke-width="0.7"/>
<path d="M314.80,418.60 L315.75,415.30 L315.80,356.00 L315.90,409.30 L316.30,413.30 L316.80,416.30 L317.50,418.60" fill="none" stroke="#eca58f" stroke-width="0.6" stroke-linejoin="miter" stroke-miterlimit="1.5"/>
<path d="M315.90,411.30 L316.30,414.30 L316.90,416.80" fill="none" stroke="#e07a5a" stroke-width="0.7"/>
<path d="M320.80,418.60 L321.75,415.30 L321.80,356.00 L321.90,409.30 L322.30,413.30 L322.80,416.30 L323.50,418.60" fill="none" stroke="#eca58f" stroke-width="0.6" stroke-linejoin="miter" stroke-miterlimit="1.5"/>
<path d="M321.90,411.30 L322.30,414.30 L322.90,416.80" fill="none" stroke="#e07a5a" stroke-width="0.7"/>
<path d="M399.60,418.60 L400.55,415.30 L400.60,356.00 L400.70,409.30 L401.10,413.30 L401.60,416.30 L402.30,418.60" fill="none" stroke="#eca58f" stroke-width="0.6" stroke-linejoin="miter" stroke-miterlimit="1.5"/>
<path d="M400.70,411.30 L401.10,414.30 L401.70,416.80" fill="none" stroke="#e07a5a" stroke-width="0.7"/>
<path d="M404.40,418.60 L405.35,415.30 L405.40,356.00 L405.50,409.30 L405.90,413.30 L406.40,416.30 L407.10,418.60" fill="none" stroke="#eca58f" stroke-width="0.6" stroke-linejoin="miter" stroke-miterlimit="1.5"/>
<path d="M405.50,411.30 L405.90,414.30 L406.50,416.80" fill="none" stroke="#e07a5a" stroke-width="0.7"/>
<path d="M413.00,418.60 L413.95,415.30 L414.00,356.00 L414.10,409.30 L414.50,413.30 L415.00,416.30 L415.70,418.60" fill="none" stroke="#eca58f" stroke-width="0.6" stroke-linejoin="miter" stroke-miterlimit="1.5"/>
<path d="M414.10,411.30 L414.50,414.30 L415.10,416.80" fill="none" stroke="#e07a5a" stroke-width="0.7"/>
<path d="M417.30,418.60 L418.25,415.30 L418.30,356.00 L418.40,409.30 L418.80,413.30 L419.30,416.30 L420.00,418.60" fill="none" stroke="#eca58f" stroke-width="0.6" stroke-linejoin="miter" stroke-miterlimit="1.5"/>
<path d="M418.40,411.30 L418.80,414.30 L419.40,416.80" fill="none" stroke="#e07a5a" stroke-width="0.7"/>
<path d="M424.60,418.60 L425.55,415.30 L425.60,356.00 L425.70,409.30 L426.10,413.30 L426.60,416.30 L427.30,418.60" fill="none" stroke="#eca58f" stroke-width="0.6" stroke-linejoin="miter" stroke-miterlimit="1.5"/>
<path d="M425.70,411.30 L426.10,414.30 L426.70,416.80" fill="none" stroke="#e07a5a" stroke-width="0.7"/>
<path d="M430.70,418.60 L431.65,415.30 L431.70,356.00 L431.80,409.30 L432.20,413.30 L432.70,416.30 L433.40,418.60" fill="none" stroke="#eca58f" stroke-width="0.6" stroke-linejoin="miter" stroke-miterlimit="1.5"/>
<path d="M431.80,411.30 L432.20,414.30 L432.80,416.80" fill="none" stroke="#e07a5a" stroke-width="0.7"/>
<path d="M436.10,418.60 L437.05,415.30 L437.10,356.00 L437.20,409.30 L437.60,413.30 L438.10,416.30 L438.80,418.60" fill="none" stroke="#eca58f" stroke-width="0.6" stroke-linejoin="miter" stroke-miterlimit="1.5"/>
<path d="M437.20,411.30 L437.60,414.30 L438.20,416.80" fill="none" stroke="#e07a5a" stroke-width="0.7"/>
<path d="M445.40,418.60 L446.35,415.30 L446.40,356.00 L446.50,409.30 L446.90,413.30 L447.40,416.30 L448.10,418.60" fill="none" stroke="#eca58f" stroke-width="0.6" stroke-linejoin="miter" stroke-miterlimit="1.5"/>
<path d="M446.50,411.30 L446.90,414.30 L447.50,416.80" fill="none" stroke="#e07a5a" stroke-width="0.7"/>
<path d="M449.90,418.60 L450.85,415.30 L450.90,356.00 L451.00,409.30 L451.40,413.30 L451.90,416.30 L452.60,418.60" fill="none" stroke="#eca58f" stroke-width="0.6" stroke-linejoin="miter" stroke-miterlimit="1.5"/>
<path d="M451.00,411.30 L451.40,414.30 L452.00,416.80" fill="none" stroke="#e07a5a" stroke-width="0.7"/>
<path d="M456.70,418.60 L457.65,415.30 L457.70,356.00 L457.80,409.30 L458.20,413.30 L458.70,416.30 L459.40,418.60" fill="none" stroke="#eca58f" stroke-width="0.6" stroke-linejoin="miter" stroke-miterlimit="1.5"/>
<path d="M457.80,411.30 L458.20,414.30 L458.80,416.80" fill="none" stroke="#e07a5a" stroke-width="0.7"/>
<path d="M463.30,418.60 L464.25,415.30 L464.30,356.00 L464.40,409.30 L464.80,413.30 L465.30,416.30 L466.00,418.60" fill="none" stroke="#eca58f" stroke-width="0.6" stroke-linejoin="miter" stroke-miterlimit="1.5"/>
<path d="M464.40,411.30 L464.80,414.30 L465.40,416.80" fill="none" stroke="#e07a5a" stroke-width="0.7"/>
<path d="M468.70,418.60 L469.65,415.30 L469.70,356.00 L469.80,409.30 L470.20,413.30 L470.70,416.30 L471.40,418.60" fill="none" stroke="#eca58f" stroke-width="0.6" stroke-linejoin="miter" stroke-miterlimit="1.5"/>
<path d="M469.80,411.30 L470.20,414.30 L470.80,416.80" fill="none" stroke="#e07a5a" stroke-width="0.7"/>
<path d="M476.70,418.60 L477.65,415.30 L477.70,356.00 L477.80,409.30 L478.20,413.30 L478.70,416.30 L479.40,418.60" fill="none" stroke="#eca58f" stroke-width="0.6" stroke-linejoin="miter" stroke-miterlimit="1.5"/>
<path d="M477.80,411.30 L478.20,414.30 L478.80,416.80" fill="none" stroke="#e07a5a" stroke-width="0.7"/>
<path d="M481.90,418.60 L482.85,415.30 L482.90,356.00 L483.00,409.30 L483.40,413.30 L483.90,416.30 L484.60,418.60" fill="none" stroke="#eca58f" stroke-width="0.6" stroke-linejoin="miter" stroke-miterlimit="1.5"/>
<path d="M483.00,411.30 L483.40,414.30 L484.00,416.80" fill="none" stroke="#e07a5a" stroke-width="0.7"/>
<path d="M490.50,418.60 L491.45,415.30 L491.50,356.00 L491.60,409.30 L492.00,413.30 L492.50,416.30 L493.20,418.60" fill="none" stroke="#eca58f" stroke-width="0.6" stroke-linejoin="miter" stroke-miterlimit="1.5"/>
<path d="M491.60,411.30 L492.00,414.30 L492.60,416.80" fill="none" stroke="#e07a5a" stroke-width="0.7"/>
<path d="M495.70,418.60 L496.65,415.30 L496.70,356.00 L496.80,409.30 L497.20,413.30 L497.70,416.30 L498.40,418.60" fill="none" stroke="#eca58f" stroke-width="0.6" stroke-linejoin="miter" stroke-miterlimit="1.5"/>
<path d="M496.80,411.30 L497.20,414.30 L497.80,416.80" fill="none" stroke="#e07a5a" stroke-width="0.7"/>
<path d="M499.80,418.60 L500.75,415.30 L500.80,356.00 L500.90,409.30 L501.30,413.30 L501.80,416.30 L502.50,418.60" fill="none" stroke="#eca58f" stroke-width="0.6" stroke-linejoin="miter" stroke-miterlimit="1.5"/>
<path d="M500.90,411.30 L501.30,414.30 L501.90,416.80" fill="none" stroke="#e07a5a" stroke-width="0.7"/>
<path d="M509.10,418.60 L510.05,415.30 L510.10,356.00 L510.20,409.30 L510.60,413.30 L511.10,416.30 L511.80,418.60" fill="none" stroke="#eca58f" stroke-width="0.6" stroke-linejoin="miter" stroke-miterlimit="1.5"/>
<path d="M510.20,411.30 L510.60,414.30 L511.20,416.80" fill="none" stroke="#e07a5a" stroke-width="0.7"/>
<path d="M515.00,418.60 L515.95,415.30 L516.00,356.00 L516.10,409.30 L516.50,413.30 L517.00,416.30 L517.70,418.60" fill="none" stroke="#eca58f" stroke-width="0.6" stroke-linejoin="miter" stroke-miterlimit="1.5"/>
<path d="M516.10,411.30 L516.50,414.30 L517.10,416.80" fill="none" stroke="#e07a5a" stroke-width="0.7"/>
<path d="M522.40,418.60 L523.35,415.30 L523.40,356.00 L523.50,409.30 L523.90,413.30 L524.40,416.30 L525.10,418.60" fill="none" stroke="#eca58f" stroke-width="0.6" stroke-linejoin="miter" stroke-miterlimit="1.5"/>
<path d="M523.50,411.30 L523.90,414.30 L524.50,416.80" fill="none" stroke="#e07a5a" stroke-width="0.7"/>
<path d="M527.20,418.60 L528.15,415.30 L528.20,356.00 L528.30,409.30 L528.70,413.30 L529.20,416.30 L529.90,418.60" fill="none" stroke="#eca58f" stroke-width="0.6" stroke-linejoin="miter" stroke-miterlimit="1.5"/>
<path d="M528.30,411.30 L528.70,414.30 L529.30,416.80" fill="none" stroke="#e07a5a" stroke-width="0.7"/>
<path d="M532.00,418.60 L532.95,415.30 L533.00,356.00 L533.10,409.30 L533.50,413.30 L534.00,416.30 L534.70,418.60" fill="none" stroke="#eca58f" stroke-width="0.6" stroke-linejoin="miter" stroke-miterlimit="1.5"/>
<path d="M533.10,411.30 L533.50,414.30 L534.10,416.80" fill="none" stroke="#e07a5a" stroke-width="0.7"/>
<path d="M541.30,418.60 L542.25,415.30 L542.30,356.00 L542.40,409.30 L542.80,413.30 L543.30,416.30 L544.00,418.60" fill="none" stroke="#eca58f" stroke-width="0.6" stroke-linejoin="miter" stroke-miterlimit="1.5"/>
<path d="M542.40,411.30 L542.80,414.30 L543.40,416.80" fill="none" stroke="#e07a5a" stroke-width="0.7"/>
<path d="M545.40,418.60 L546.35,415.30 L546.40,356.00 L546.50,409.30 L546.90,413.30 L547.40,416.30 L548.10,418.60" fill="none" stroke="#eca58f" stroke-width="0.6" stroke-linejoin="miter" stroke-miterlimit="1.5"/>
<path d="M546.50,411.30 L546.90,414.30 L547.50,416.80" fill="none" stroke="#e07a5a" stroke-width="0.7"/>
<path d="M554.40,418.60 L555.35,415.30 L555.40,356.00 L555.50,409.30 L555.90,413.30 L556.40,416.30 L557.10,418.60" fill="none" stroke="#eca58f" stroke-width="0.6" stroke-linejoin="miter" stroke-miterlimit="1.5"/>
<path d="M555.50,411.30 L555.90,414.30 L556.50,416.80" fill="none" stroke="#e07a5a" stroke-width="0.7"/>
<path d="M558.50,418.60 L559.45,415.30 L559.50,356.00 L559.60,409.30 L560.00,413.30 L560.50,416.30 L561.20,418.60" fill="none" stroke="#eca58f" stroke-width="0.6" stroke-linejoin="miter" stroke-miterlimit="1.5"/>
<path d="M559.60,411.30 L560.00,414.30 L560.60,416.80" fill="none" stroke="#e07a5a" stroke-width="0.7"/>
<path d="M564.40,418.60 L565.35,415.30 L565.40,356.00 L565.50,409.30 L565.90,413.30 L566.40,416.30 L567.10,418.60" fill="none" stroke="#eca58f" stroke-width="0.6" stroke-linejoin="miter" stroke-miterlimit="1.5"/>
<path d="M565.50,411.30 L565.90,414.30 L566.50,416.80" fill="none" stroke="#e07a5a" stroke-width="0.7"/>
<path d="M573.70,418.60 L574.65,415.30 L574.70,356.00 L574.80,409.30 L575.20,413.30 L575.70,416.30 L576.40,418.60" fill="none" stroke="#eca58f" stroke-width="0.6" stroke-linejoin="miter" stroke-miterlimit="1.5"/>
<path d="M574.80,411.30 L575.20,414.30 L575.80,416.80" fill="none" stroke="#e07a5a" stroke-width="0.7"/>
<path d="M578.00,418.60 L578.95,415.30 L579.00,356.00 L579.10,409.30 L579.50,413.30 L580.00,416.30 L580.70,418.60" fill="none" stroke="#eca58f" stroke-width="0.6" stroke-linejoin="miter" stroke-miterlimit="1.5"/>
<path d="M579.10,411.30 L579.50,414.30 L580.10,416.80" fill="none" stroke="#e07a5a" stroke-width="0.7"/>
<path d="M587.30,418.60 L588.25,415.30 L588.30,356.00 L588.40,409.30 L588.80,413.30 L589.30,416.30 L590.00,418.60" fill="none" stroke="#eca58f" stroke-width="0.6" stroke-linejoin="miter" stroke-miterlimit="1.5"/>
<path d="M588.40,411.30 L588.80,414.30 L589.40,416.80" fill="none" stroke="#e07a5a" stroke-width="0.7"/>
<path d="M590.90,418.60 L591.85,415.30 L591.90,356.00 L592.00,409.30 L592.40,413.30 L592.90,416.30 L593.60,418.60" fill="none" stroke="#eca58f" stroke-width="0.6" stroke-linejoin="miter" stroke-miterlimit="1.5"/>
<path d="M592.00,411.30 L592.40,414.30 L593.00,416.80" fill="none" stroke="#e07a5a" stroke-width="0.7"/>
<path d="M596.80,418.60 L597.75,415.30 L597.80,356.00 L597.90,409.30 L598.30,413.30 L598.80,416.30 L599.50,418.60" fill="none" stroke="#eca58f" stroke-width="0.6" stroke-linejoin="miter" stroke-miterlimit="1.5"/>
<path d="M597.90,411.30 L598.30,414.30 L598.90,416.80" fill="none" stroke="#e07a5a" stroke-width="0.7"/>
<path d="M604.70,418.60 L605.65,415.30 L605.70,356.00 L605.80,409.30 L606.20,413.30 L606.70,416.30 L607.40,418.60" fill="none" stroke="#eca58f" stroke-width="0.6" stroke-linejoin="miter" stroke-miterlimit="1.5"/>
<path d="M605.80,411.30 L606.20,414.30 L606.80,416.80" fill="none" stroke="#e07a5a" stroke-width="0.7"/>
<path d="M610.60,418.60 L611.55,415.30 L611.60,356.00 L611.70,409.30 L612.10,413.30 L612.60,416.30 L613.30,418.60" fill="none" stroke="#eca58f" stroke-width="0.6" stroke-linejoin="miter" stroke-miterlimit="1.5"/>
<path d="M611.70,411.30 L612.10,414.30 L612.70,416.80" fill="none" stroke="#e07a5a" stroke-width="0.7"/>
<path d="M619.70,418.60 L620.65,415.30 L620.70,356.00 L620.80,409.30 L621.20,413.30 L621.70,416.30 L622.40,418.60" fill="none" stroke="#eca58f" stroke-width="0.6" stroke-linejoin="miter" stroke-miterlimit="1.5"/>
<path d="M620.80,411.30 L621.20,414.30 L621.80,416.80" fill="none" stroke="#e07a5a" stroke-width="0.7"/>
<path d="M623.30,418.60 L624.25,415.30 L624.30,356.00 L624.40,409.30 L624.80,413.30 L625.30,416.30 L626.00,418.60" fill="none" stroke="#eca58f" stroke-width="0.6" stroke-linejoin="miter" stroke-miterlimit="1.5"/>
<path d="M624.40,411.30 L624.80,414.30 L625.40,416.80" fill="none" stroke="#e07a5a" stroke-width="0.7"/>
<path d="M627.60,418.60 L628.55,415.30 L628.60,356.00 L628.70,409.30 L629.10,413.30 L629.60,416.30 L630.30,418.60" fill="none" stroke="#eca58f" stroke-width="0.6" stroke-linejoin="miter" stroke-miterlimit="1.5"/>
<path d="M628.70,411.30 L629.10,414.30 L629.70,416.80" fill="none" stroke="#e07a5a" stroke-width="0.7"/>
<path d="M637.10,418.60 L638.05,415.30 L638.10,356.00 L638.20,409.30 L638.60,413.30 L639.10,416.30 L639.80,418.60" fill="none" stroke="#eca58f" stroke-width="0.6" stroke-linejoin="miter" stroke-miterlimit="1.5"/>
<path d="M638.20,411.30 L638.60,414.30 L639.20,416.80" fill="none" stroke="#e07a5a" stroke-width="0.7"/>
<path d="M643.00,418.60 L643.95,415.30 L644.00,356.00 L644.10,409.30 L644.50,413.30 L645.00,416.30 L645.70,418.60" fill="none" stroke="#eca58f" stroke-width="0.6" stroke-linejoin="miter" stroke-miterlimit="1.5"/>
<path d="M644.10,411.30 L644.50,414.30 L645.10,416.80" fill="none" stroke="#e07a5a" stroke-width="0.7"/>
<path d="M650.50,418.60 L651.45,415.30 L651.50,356.00 L651.60,409.30 L652.00,413.30 L652.50,416.30 L653.20,418.60" fill="none" stroke="#eca58f" stroke-width="0.6" stroke-linejoin="miter" stroke-miterlimit="1.5"/>
<path d="M651.60,411.30 L652.00,414.30 L652.60,416.80" fill="none" stroke="#e07a5a" stroke-width="0.7"/>
<path d="M656.10,418.60 L657.05,415.30 L657.10,356.00 L657.20,409.30 L657.60,413.30 L658.10,416.30 L658.80,418.60" fill="none" stroke="#eca58f" stroke-width="0.6" stroke-linejoin="miter" stroke-miterlimit="1.5"/>
<path d="M657.20,411.30 L657.60,414.30 L658.20,416.80" fill="none" stroke="#e07a5a" stroke-width="0.7"/>
<path d="M659.80,418.60 L660.75,415.30 L660.80,356.00 L660.90,409.30 L661.30,413.30 L661.80,416.30 L662.50,418.60" fill="none" stroke="#eca58f" stroke-width="0.6" stroke-linejoin="miter" stroke-miterlimit="1.5"/>
<path d="M660.90,411.30 L661.30,414.30 L661.90,416.80" fill="none" stroke="#e07a5a" stroke-width="0.7"/>
<rect x="59.20" y="270.2" width="273.00" height="148.10" fill="none" stroke="#111" stroke-width="1.1"/>
<line x1="59.20" y1="344.20" x2="332.20" y2="344.20" stroke="#111" stroke-width="1.15"/>
<line x1="56.70" y1="344.20" x2="59.20" y2="344.20" stroke="#111" stroke-width="0.9"/>
<text x="54.70" y="348.40" text-anchor="end" font-family='"Liberation Sans", sans-serif' font-size="11" fill="#000" stroke="#000" stroke-width="0.25">0</text>
<line x1="56.70" y1="314.60" x2="59.20" y2="314.60" stroke="#111" stroke-width="0.9"/>
<text x="54.70" y="318.80" text-anchor="end" font-family='"Liberation Sans", sans-serif' font-size="11" fill="#000" stroke="#000" stroke-width="0.25">200</text>
<line x1="56.70" y1="285.00" x2="59.20" y2="285.00" stroke="#111" stroke-width="0.9"/>
<text x="54.70" y="289.20" text-anchor="end" font-family='"Liberation Sans", sans-serif' font-size="11" fill="#000" stroke="#000" stroke-width="0.25">400</text>
<line x1="56.70" y1="418.30" x2="59.20" y2="418.30" stroke="#111" stroke-width="0.9"/>
<text x="54.70" y="422.50" text-anchor="end" font-family='"Liberation Sans", sans-serif' font-size="11" fill="#000" stroke="#000" stroke-width="0.25">0</text>
<line x1="56.70" y1="388.70" x2="59.20" y2="388.70" stroke="#111" stroke-width="0.9"/>
<text x="54.70" y="392.90" text-anchor="end" font-family='"Liberation Sans", sans-serif' font-size="11" fill="#000" stroke="#000" stroke-width="0.25">200</text>
<line x1="56.70" y1="359.10" x2="59.20" y2="359.10" stroke="#111" stroke-width="0.9"/>
<text x="54.70" y="363.30" text-anchor="end" font-family='"Liberation Sans", sans-serif' font-size="11" fill="#000" stroke="#000" stroke-width="0.25">400</text>
<rect x="393.50" y="270.2" width="273.00" height="148.10" fill="none" stroke="#111" stroke-width="1.1"/>
<line x1="393.50" y1="344.20" x2="666.50" y2="344.20" stroke="#111" stroke-width="1.15"/>
<line x1="59.20" y1="418.30" x2="59.20" y2="420.80" stroke="#111" stroke-width="0.9"/>
<text x="59.20" y="430.80" text-anchor="middle" font-family='"Liberation Sans", sans-serif' font-size="10.8" fill="#000" stroke="#000" stroke-width="0.25">0.0</text>
<line x1="124.20" y1="418.30" x2="124.20" y2="420.80" stroke="#111" stroke-width="0.9"/>
<text x="124.20" y="430.80" text-anchor="middle" font-family='"Liberation Sans", sans-serif' font-size="10.8" fill="#000" stroke="#000" stroke-width="0.25">0.5</text>
<line x1="189.20" y1="418.30" x2="189.20" y2="420.80" stroke="#111" stroke-width="0.9"/>
<text x="189.20" y="430.80" text-anchor="middle" font-family='"Liberation Sans", sans-serif' font-size="10.8" fill="#000" stroke="#000" stroke-width="0.25">1.0</text>
<line x1="254.20" y1="418.30" x2="254.20" y2="420.80" stroke="#111" stroke-width="0.9"/>
<text x="254.20" y="430.80" text-anchor="middle" font-family='"Liberation Sans", sans-serif' font-size="10.8" fill="#000" stroke="#000" stroke-width="0.25">1.5</text>
<line x1="319.20" y1="418.30" x2="319.20" y2="420.80" stroke="#111" stroke-width="0.9"/>
<text x="319.20" y="430.80" text-anchor="middle" font-family='"Liberation Sans", sans-serif' font-size="10.8" fill="#000" stroke="#000" stroke-width="0.25">2.0</text>
<line x1="425.80" y1="418.30" x2="425.80" y2="420.80" stroke="#111" stroke-width="0.9"/>
<text x="425.80" y="430.80" text-anchor="middle" font-family='"Liberation Sans", sans-serif' font-size="10.8" fill="#000" stroke="#000" stroke-width="0.25">27.5</text>
<line x1="490.80" y1="418.30" x2="490.80" y2="420.80" stroke="#111" stroke-width="0.9"/>
<text x="490.80" y="430.80" text-anchor="middle" font-family='"Liberation Sans", sans-serif' font-size="10.8" fill="#000" stroke="#000" stroke-width="0.25">28.0</text>
<line x1="555.80" y1="418.30" x2="555.80" y2="420.80" stroke="#111" stroke-width="0.9"/>
<text x="555.80" y="430.80" text-anchor="middle" font-family='"Liberation Sans", sans-serif' font-size="10.8" fill="#000" stroke="#000" stroke-width="0.25">28.5</text>
<line x1="620.80" y1="418.30" x2="620.80" y2="420.80" stroke="#111" stroke-width="0.9"/>
<text x="620.80" y="430.80" text-anchor="middle" font-family='"Liberation Sans", sans-serif' font-size="10.8" fill="#000" stroke="#000" stroke-width="0.25">29.0</text>
<text x="196.2" y="443.4" text-anchor="middle" font-family='"Liberation Sans", sans-serif' font-size="11.2" fill="#000" stroke="#000" stroke-width="0.25">Time [<tspan font-style="italic">μs</tspan>]</text>
<text x="536.5" y="443.4" text-anchor="middle" font-family='"Liberation Sans", sans-serif' font-size="11.2" fill="#000" stroke="#000" stroke-width="0.25">Time [<tspan font-style="italic">μs</tspan>]</text>
<text x="1" y="305.5" font-family='"Liberation Sans", sans-serif' font-size="11.2" fill="#000" stroke="#000" stroke-width="0.25"><tspan font-style="italic">V</tspan><tspan font-size="7.5" dy="2">1</tspan><tspan dy="-2"> [</tspan><tspan font-style="italic">μV</tspan>]</text>
<text x="1" y="379" font-family='"Liberation Sans", sans-serif' font-size="11.2" fill="#000" stroke="#000" stroke-width="0.25"><tspan font-style="italic">V</tspan><tspan font-size="7.5" dy="2">2</tspan><tspan dy="-2"> [</tspan><tspan font-style="italic">μV</tspan>]</text>
<circle cx="354.3" cy="310.4" r="2.4" fill="#858585"/>
<circle cx="363.2" cy="310.4" r="2.4" fill="#858585"/>
<circle cx="371.5" cy="310.4" r="2.4" fill="#858585"/>
<circle cx="354.8" cy="382.1" r="2.4" fill="#858585"/>
<circle cx="363.6" cy="382.1" r="2.4" fill="#858585"/>
<circle cx="372" cy="382.1" r="2.4" fill="#858585"/>
<path d="M93.90,111.30 C82.26,97.55 66.78,92.04 44.55,111.54" fill="none" stroke="#e0532a" stroke-width="1.1"/>
<path d="M42.20,113.60 L44.47,108.29 L45.53,110.69 L47.76,112.06 Z" fill="#e0532a"/>
<path d="M42.70,139.80 C51.61,154.23 67.32,171.70 92.41,146.32" fill="none" stroke="#666666" stroke-width="1.1"/>
<path d="M94.60,144.10 L92.72,149.55 L91.49,147.24 L89.17,146.04 Z" fill="#666666"/>
<path d="M165.00,73.80 C148.90,86.88 158.22,95.65 135.70,108.64" fill="none" stroke="#666666" stroke-width="1.1"/>
<path d="M133.00,110.20 L136.25,105.43 L136.83,107.99 L138.75,109.77 Z" fill="#666666"/>
<path d="M135.80,135.00 C152.27,149.74 144.54,164.39 162.25,173.83" fill="none" stroke="#e0532a" stroke-width="1.1"/>
<path d="M165.00,175.30 L159.24,175.06 L161.10,173.22 L161.59,170.65 Z" fill="#e0532a"/>
<path d="M223.20,174.70 C240.77,156.70 234.84,149.28 249.73,142.92" fill="none" stroke="#666666" stroke-width="1.1"/>
<path d="M252.60,141.70 L248.80,146.04 L248.53,143.43 L246.84,141.44 Z" fill="#666666"/>
<path d="M253.60,112.20 C244.53,105.32 237.10,74.89 226.73,73.37" fill="none" stroke="#e0532a" stroke-width="1.1"/>
<path d="M223.80,72.30 L229.54,71.73 L227.95,73.81 L227.83,76.43 Z" fill="#e0532a"/>
<path d="M292.8,111.6 C304,95 332,94 343.71,111.04" fill="none" stroke="#e0532a" stroke-width="1.1"/>
<path d="M345.50,113.60 L340.47,110.77 L342.96,109.98 L344.57,107.91 Z" fill="#e0532a"/>
<path d="M345.00,139.80 C331.83,166.62 305.68,158.29 295.68,146.11" fill="none" stroke="#666666" stroke-width="1.1"/>
<path d="M293.70,143.70 L298.93,146.13 L296.51,147.12 L295.07,149.31 Z" fill="#666666"/>
<rect x="91.4" y="107.6" width="44.4" height="39.3" rx="11.5" fill="#d4969d" stroke="#bb5864" stroke-width="1.2"/>
<rect x="251.6" y="107.6" width="44.4" height="39.3" rx="11.5" fill="#d4969d" stroke="#bb5864" stroke-width="1.2"/>
<rect x="19.3" y="114.8" width="48.1" height="24.7" rx="7" fill="#e4bf52" stroke="#d09a2a" stroke-width="1"/>
<rect x="322.2" y="114.5" width="46.2" height="25.1" rx="7" fill="#e4bf52" stroke="#d09a2a" stroke-width="1"/>
<rect x="166.0" y="60.5" width="57.5" height="25.1" rx="7" fill="#e4bf52" stroke="#d09a2a" stroke-width="1"/>
<rect x="166.0" y="163.8" width="57.5" height="24.8" rx="7" fill="#e4bf52" stroke="#d09a2a" stroke-width="1"/>
<text transform="translate(102.777,132.500) scale(0.17434,0.16515)" font-family='"Liberation Serif", serif' font-size="100" fill="#141414" stroke="#141414" stroke-width="0.7">N1</text>
<text transform="translate(263.268,132.800) scale(0.17719,0.17846)" font-family='"Liberation Serif", serif' font-size="100" fill="#141414" stroke="#141414" stroke-width="0.7">N2</text>
<text transform="translate(172.909,76.954) scale(0.17265,0.17313)" font-family='"Liberation Serif", serif' font-size="100" fill="#141414" stroke="#141414" stroke-width="0.7">0.5</text>
<text transform="translate(201.177,77.900) scale(0.11538,0.11818)" font-family='"Liberation Serif", serif' font-size="100" fill="#141414" stroke="#141414" stroke-width="0.7">μA</text>
<text transform="translate(172.909,179.954) scale(0.17265,0.17313)" font-family='"Liberation Serif", serif' font-size="100" fill="#141414" stroke="#141414" stroke-width="0.7">0.5</text>
<text transform="translate(201.177,180.900) scale(0.11538,0.11818)" font-family='"Liberation Serif", serif' font-size="100" fill="#141414" stroke="#141414" stroke-width="0.7">μA</text>
<text transform="translate(24.493,131.500) scale(0.17671,0.16818)" font-family='"Liberation Serif", serif' font-size="100" fill="#141414" stroke="#141414" stroke-width="0.7">-1</text>
<text transform="translate(45.391,131.800) scale(0.11368,0.11364)" font-family='"Liberation Serif", serif' font-size="100" fill="#141414" stroke="#141414" stroke-width="0.7">μA</text>
<text transform="translate(327.466,131.500) scale(0.18356,0.17121)" font-family='"Liberation Serif", serif' font-size="100" fill="#141414" stroke="#141414" stroke-width="0.7">-1</text>
<text transform="translate(348.070,131.900) scale(0.11624,0.11667)" font-family='"Liberation Serif", serif' font-size="100" fill="#141414" stroke="#141414" stroke-width="0.7">μA</text>
<text transform="translate(78.492,65.663) scale(0.17692,0.16866)" font-family='"Liberation Serif", serif' font-size="100" fill="#7a7a7a" stroke="#7a7a7a" stroke-width="0.7">0.5</text>
<text transform="translate(106.404,65.800) scale(0.11197,0.12424)" font-family='"Liberation Serif", serif' font-size="100" fill="#7a7a7a" stroke="#7a7a7a" stroke-width="0.7">μA</text>
<text transform="translate(122.100,67.145) scale(0.15000,0.15455)" font-family='"Liberation Serif", serif' font-size="100" fill="#7a7a7a" stroke="#7a7a7a" stroke-width="0.7">/</text>
<text transform="translate(127.544,65.500) scale(0.12807,0.12462)" font-family='"Liberation Serif", serif' font-size="100" fill="#7a7a7a" stroke="#7a7a7a" stroke-width="0.7">T</text>
<text transform="translate(238.816,65.435) scale(0.17672,0.16515)" font-family='"Liberation Serif", serif' font-size="100" fill="#7a7a7a" stroke="#7a7a7a" stroke-width="0.7">3.5</text>
<text transform="translate(266.804,65.800) scale(0.11197,0.12424)" font-family='"Liberation Serif", serif' font-size="100" fill="#7a7a7a" stroke="#7a7a7a" stroke-width="0.7">μA</text>
<text transform="translate(282.500,67.145) scale(0.15000,0.15455)" font-family='"Liberation Serif", serif' font-size="100" fill="#7a7a7a" stroke="#7a7a7a" stroke-width="0.7">/</text>
<text transform="translate(287.944,65.500) scale(0.12807,0.12462)" font-family='"Liberation Serif", serif' font-size="100" fill="#7a7a7a" stroke="#7a7a7a" stroke-width="0.7">T</text>
<line x1="114.4" y1="100.5" x2="114.4" y2="107.3" stroke="#666666" stroke-width="1"/>
<circle cx="114.4" cy="93.1" r="7.4" fill="#fff" stroke="#666666" stroke-width="1"/>
<line x1="114.4" y1="88.6" x2="114.4" y2="96.6" stroke="#666666" stroke-width="0.9"/>
<path d="M112.60000000000001,94.6 L114.4,97.6 L116.2,94.6 Z" fill="#666666"/>
<line x1="114.4" y1="85.69999999999999" x2="114.4" y2="80" stroke="#666666" stroke-width="1"/>
<path d="M110.2,80 L114.4,75.3 L118.60000000000001,80 Z" fill="#fff" stroke="#666666" stroke-width="1"/>
<line x1="274.8" y1="100.0" x2="274.8" y2="107.3" stroke="#666666" stroke-width="1"/>
<circle cx="274.8" cy="92.6" r="7.4" fill="#fff" stroke="#666666" stroke-width="1"/>
<line x1="274.8" y1="88.1" x2="274.8" y2="96.1" stroke="#666666" stroke-width="0.9"/>
<path d="M273.0,94.1 L274.8,97.1 L276.6,94.1 Z" fill="#666666"/>
<line x1="274.8" y1="85.19999999999999" x2="274.8" y2="80" stroke="#666666" stroke-width="1"/>
<path d="M270.6,80 L274.8,75.3 L279.0,80 Z" fill="#fff" stroke="#666666" stroke-width="1"/>
</svg></body></html>
